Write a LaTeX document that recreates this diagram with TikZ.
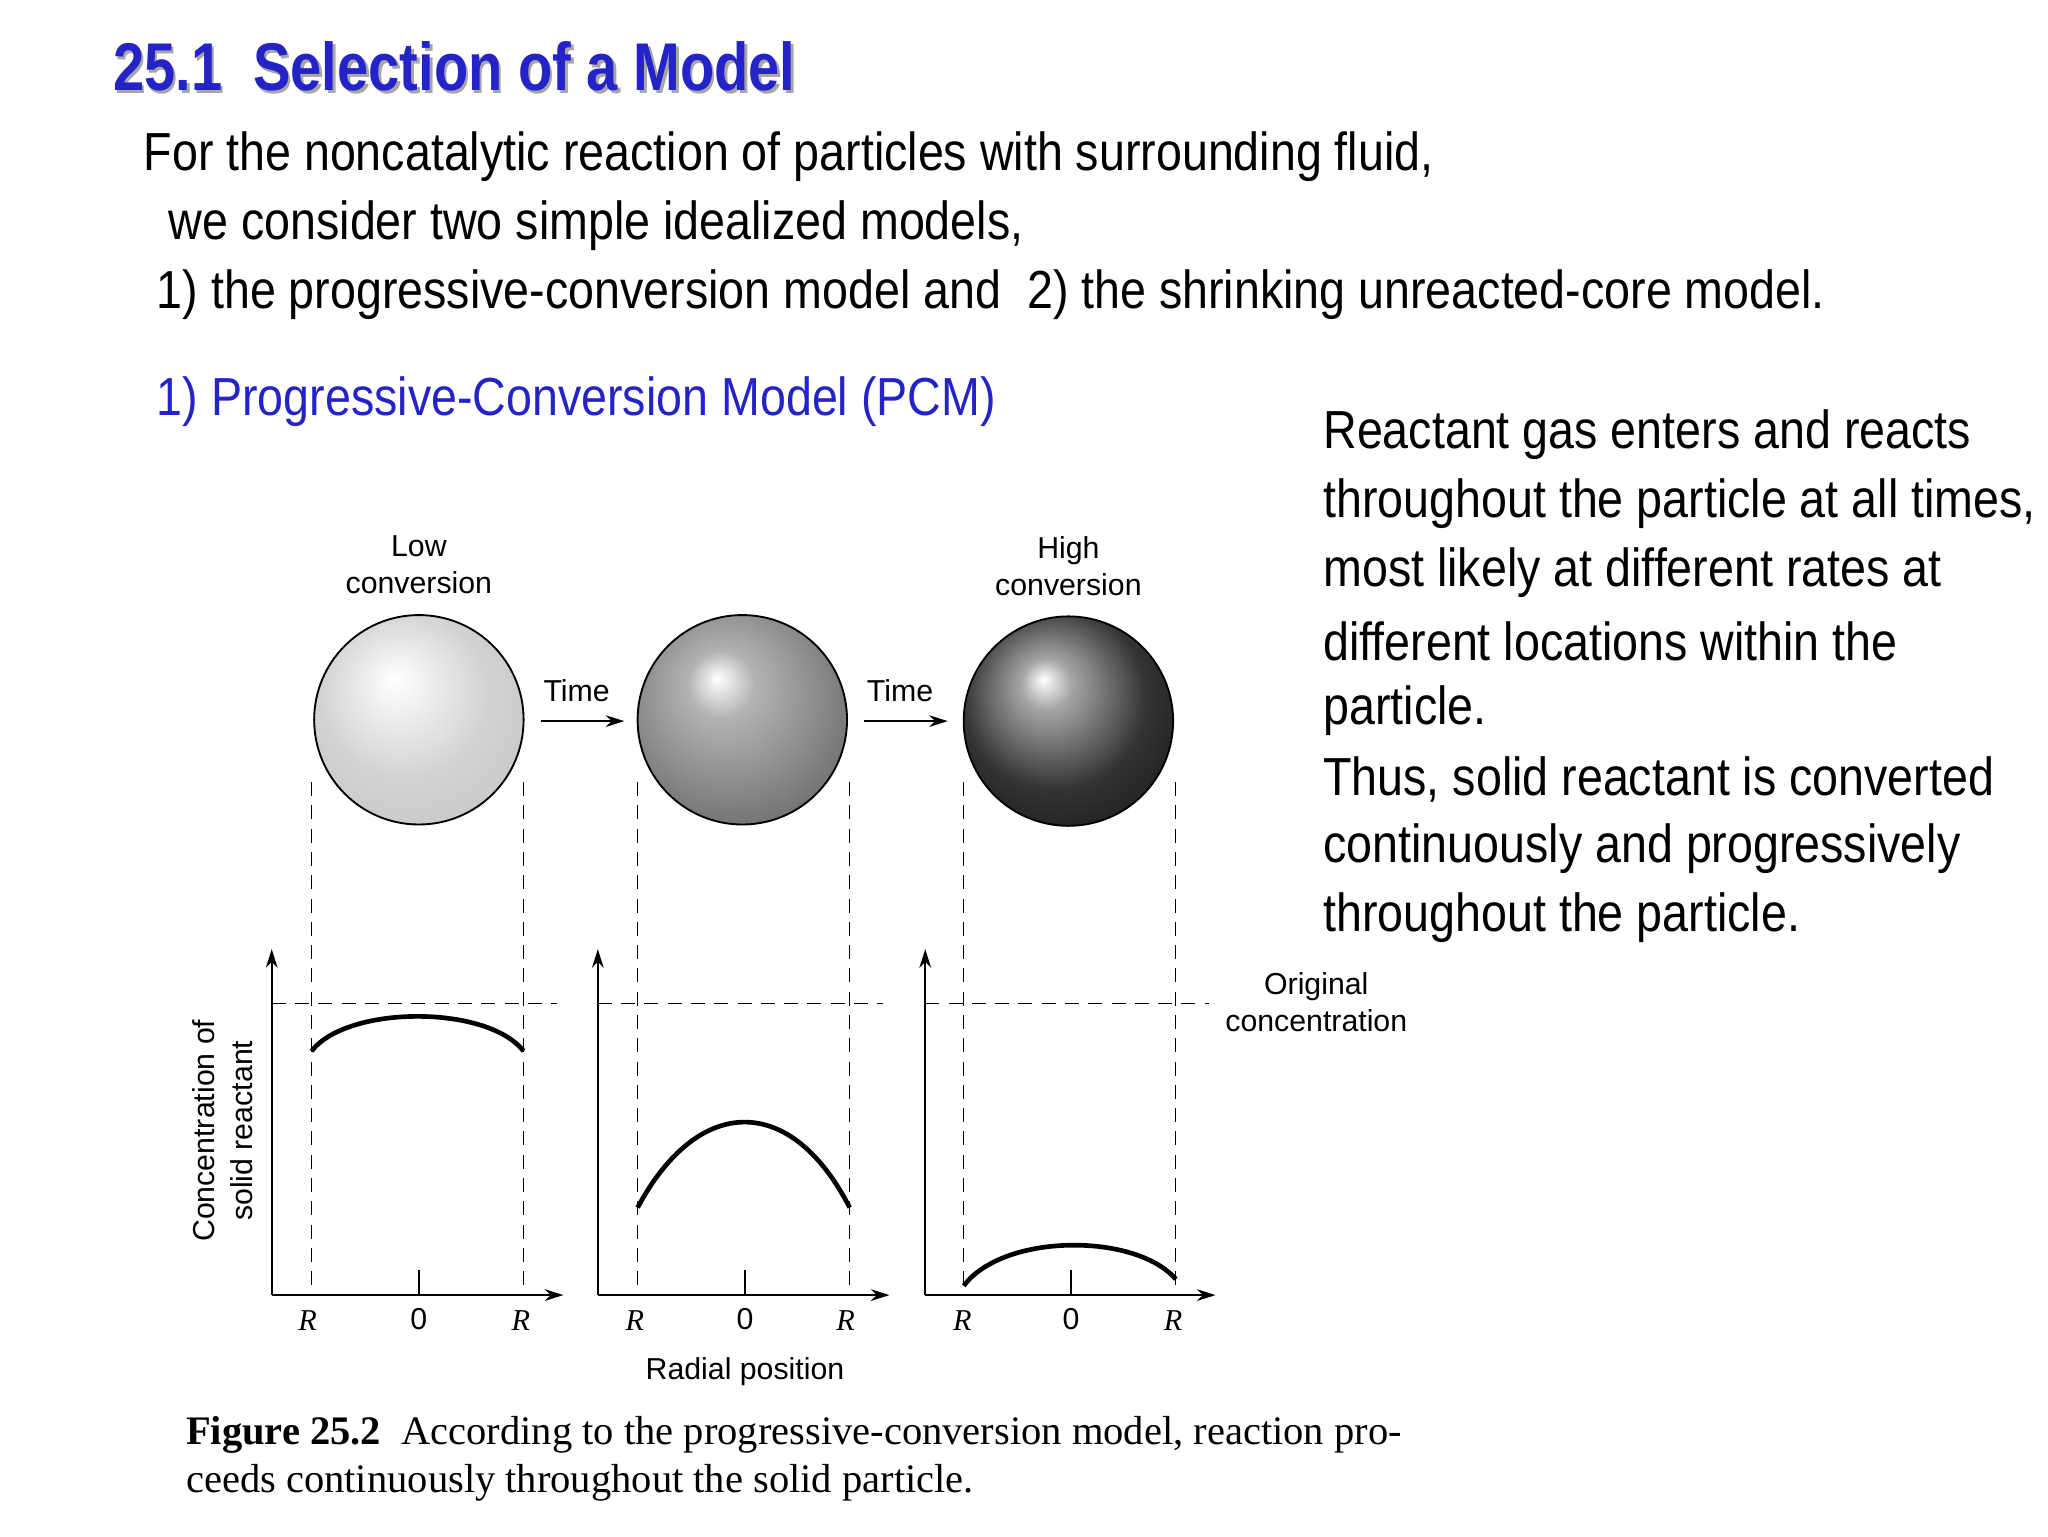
\documentclass[tikz,border=0pt]{standalone}
\usepackage{fontspec}
\setmainfont{Liberation Sans}
\newfontfamily\narrow[FakeStretch=0.87]{Liberation Sans}
\newfontfamily\narrowt[FakeStretch=0.83]{Liberation Sans}
\newfontfamily\capserif{Liberation Serif}
\usetikzlibrary{arrows.meta}
\definecolor{titleblue}{RGB}{35,35,200}
\pgfdeclareradialshading{lowball}{\pgfpoint{-6bp}{10bp}}{color(0bp)=(white); color(20bp)=(gray!35); color(50bp)=(gray!55)}
\pgfdeclareradialshading{midball}{\pgfpoint{-6bp}{10bp}}{color(0bp)=(white); color(8bp)=(gray!60); color(30bp)=(gray!90!black); color(50bp)=(black!75)}
\pgfdeclareradialshading{highball}{\pgfpoint{-6bp}{10bp}}{color(0bp)=(white); color(6bp)=(gray!70); color(22bp)=(black!80); color(50bp)=(black)}
\begin{document}
\begin{tikzpicture}[x=0.02cm,y=-0.02cm,
  body/.style={font=\narrow\fontsize{23}{28}\selectfont,anchor=west,inner sep=0},
  lab/.style={font=\fontsize{13}{15}\selectfont,inner sep=0,align=center},
  dsh/.style={dashed,dash pattern=on 6pt off 4pt,line width=0.6pt},
  ax/.style={line width=1pt,-{Stealth[length=8pt,width=5pt]}},
  crv/.style={line width=2pt},
  rl/.style={font=\capserif\itshape\fontsize{13}{15}\selectfont,inner sep=0}]
\useasboundingbox (0,0) rectangle (1545,1159);
% title
\node[anchor=west,inner sep=0,text=gray!70,font=\narrowt\bfseries\fontsize{29}{34}\selectfont] at (87,52) {25.1\ \ Selection of a Model};
\node (title)[anchor=west,inner sep=0,text=titleblue,font=\narrowt\bfseries\fontsize{29}{34}\selectfont] at (85,50) {25.1\ \ Selection of a Model};
\node (l1)[body] at (108,118) {For the noncatalytic reaction of particles with surrounding fluid,};
\node (l2)[body] at (127,170) {we consider two simple idealized models,};
\node (l3)[body] at (118,222) {1) the progressive-conversion model and\ \ 2) the shrinking unreacted-core model.};
\node (pcm)[body,text=titleblue] at (118,303) {1) Progressive-Conversion Model (PCM)};
\foreach \t [count=\i] in {Reactant gas enters and reacts,throughout the particle at all times\rlap{,},most likely at different rates at,different locations within the,particle.,{Thus, solid reactant is converted},continuously and progressively,throughout the particle.}
  \node (r\i)[body] at (998,276+52*\i) {\t};
% spheres
\shade[shading=lowball] (316,543) circle (79);
\draw[line width=0.8pt] (316,543) circle (79);
\shade[shading=midball] (560,543) circle (79);
\draw[line width=0.8pt] (560,543) circle (79);
\shade[shading=highball] (806,544) circle (79);
\draw[line width=0.8pt] (806,544) circle (79);
\node (low)[lab] at (316,426) {Low\\[1pt]conversion};
\node (high)[lab] at (806,427) {High\\[1pt]conversion};
\node (t1)[lab] at (435,521) {Time};
\node (t2)[lab] at (679,521) {Time};
\coordinate (a1) at (408,544); \coordinate (b1) at (471,544);
\coordinate (a2) at (652,544); \coordinate (b2) at (715,544);
\draw[ax] (a1) -- (b1); \draw[ax] (a2) -- (b2);
% dashed verticals
\foreach \x in {235,395,481,641,727,887} \draw[dsh] (\x,590) -- (\x,975);
% axes
\foreach \x/\e in {205/425,451/671,698/917}{
  \draw[ax] (\x,977) -- (\x,716);
  \draw[ax] (\x,977) -- (\e,977);
  \draw[dsh] (\x,757) -- (\e-5,757);
}
\foreach \x in {316,562,808} \draw[line width=0.8pt] (\x,958) -- (\x,977);
% curves
\draw[crv] (235,793) .. controls (262,758) and (368,758) .. (395,793);
\draw[crv] (481,911) .. controls (527,825) and (597,825) .. (641,911);
\draw[crv] (727,970) .. controls (757,930) and (857,930) .. (887,965);
% labels
\foreach \x in {232,393,479,638,726,885} \node[rl] at (\x,996) {R};
\foreach \x in {316,562,808} \node[lab] at (\x,995) {0};
\node (rad)[lab] at (562,1035) {Radial position};
\node (yl)[lab,rotate=90] at (168,853) {Concentration of\\[1pt]solid reactant};
\node (orig)[lab] at (993,756) {Original\\[1pt]concentration};
% caption
\node (cap)[anchor=north west,inner sep=0,align=left,font=\capserif\fontsize{17.4}{20.5}\selectfont] at (140,1068) {\textbf{Figure 25.2}\ \ According to the progressive-conversion model, reaction pro-\\ceeds continuously throughout the solid particle.};
\end{tikzpicture}
\end{document}
